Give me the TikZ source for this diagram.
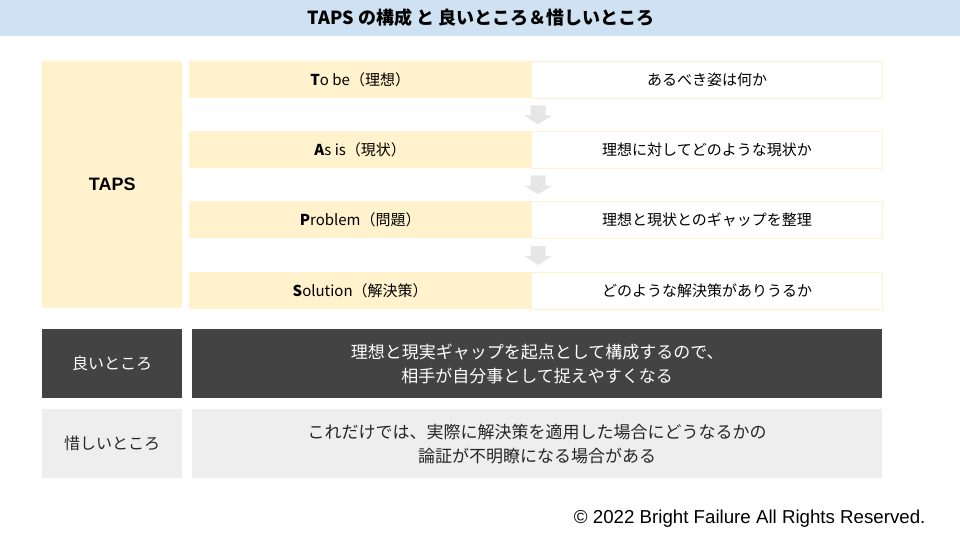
\documentclass[tikz,border=0pt]{standalone}
\usepackage{fontspec}
\setmainfont{Noto Sans CJK JP}
\newfontfamily\copyfont{Liberation Sans}
\usetikzlibrary{positioning}
\usetikzlibrary{calc}
\definecolor{headblue}{HTML}{CFE2F3}
\definecolor{tapsyellow}{HTML}{FFF2CC}
\definecolor{gooddark}{HTML}{434343}
\definecolor{badlight}{HTML}{EEEEEE}
\definecolor{arrowgray}{HTML}{E6E6E6}
\tikzstyle{tapsbox}=[fill=tapsyellow,anchor=north west,inner sep=0pt,minimum width=140pt,minimum height=247pt,font=\copyfont\fontsize{18}{20}\selectfont\bfseries]
\tikzstyle{stepcell}=[fill=tapsyellow,anchor=north west,inner sep=0pt,minimum width=342pt,minimum height=37pt,font=\fontsize{15}{17}\selectfont]
\tikzstyle{desccell}=[draw=tapsyellow,line width=1pt,fill=white,anchor=north west,inner sep=0pt,minimum width=351pt,minimum height=37pt,font=\fontsize{15}{17}\selectfont]
\tikzstyle{labelcell}=[anchor=north west,inner sep=0pt,minimum width=140pt,minimum height=69pt,font=\fontsize{16}{18}\selectfont]
\tikzstyle{textcell}=[anchor=north west,inner sep=0pt,minimum width=690pt,minimum height=69pt,align=center,font=\fontsize{17}{24}\selectfont]

\begin{document}
\begin{tikzpicture}[x=1pt,y=-1pt]
    \useasboundingbox (0,0) rectangle (960,540);
    % header band
    \fill[headblue] (0,0) rectangle (960,36);
    \node[font=\fontsize{18}{20}\selectfont\bfseries] (title) at (481,18) {TAPS の構成 と 良いところ＆惜しいところ};

    % TAPS column
    \node[tapsbox] (taps) at (42,61) {TAPS};
    \foreach \pos/\name/\first/\rest/\desc in {{61/tobe/T/o be（理想）/あるべき姿は何か}, {131/asis/A/s is（現状）/理想に対してどのような現状か}, {201/problem/P/roblem（問題）/理想と現状とのギャップを整理}, {272/solution/S/olution（解決策）/どのような解決策がありうるか}}
    {
        \node[stepcell] (\name) at (189,\pos) {\textbf{\first}\rest};
        \node[desccell] (\name-d) at (531,\pos) {\desc};
    }

    % arrows between the steps
    \foreach \source/\dest in {tobe/asis, asis/problem, problem/solution}
    {
        \coordinate (\source-m) at ($(\source-d.south west)!0.5!(\dest-d.north west)+(7,0)$);
        \fill[arrowgray,shift={(\source-m)}] (-7.5,-9.5) -- (7.5,-9.5) -- (7.5,0.5) -- (14,0.5) -- (0,9.5) -- (-14,0.5) -- (-7.5,0.5) -- cycle;
    }

    % good and not so good points
    \node[labelcell,fill=gooddark,text=white] (good) at (42,329) {良いところ};
    \node[textcell,fill=gooddark,text=white] (good-t) at (192,329) {理想と現実ギャップを起点として構成するので、\\相手が自分事として捉えやすくなる};
    \node[labelcell,fill=badlight,text=black!85] (bad) at (42,409) {惜しいところ};
    \node[textcell,fill=badlight,text=black!85] (bad-t) at (192,409) {これだけでは、実際に解決策を適用した場合にどうなるかの\\論証が不明瞭になる場合がある};

    % footer
    \node[anchor=east,font=\copyfont\fontsize{18.7}{20}\selectfont] (copy) at (929,519) {© 2022 Bright Failure All Rights Reserved.};
\end{tikzpicture}
\end{document}
